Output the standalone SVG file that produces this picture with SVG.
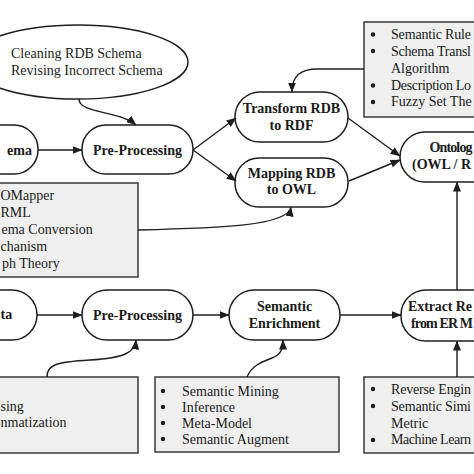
<svg xmlns="http://www.w3.org/2000/svg" width="474" height="474" viewBox="0 0 474 474">
<style>
.bg{fill:#ffffff}
.node{fill:#ffffff;stroke:#1e1e1e;stroke-width:1.5}
.box{fill:#efefef;stroke:#3a3a3a;stroke-width:1.5}
.lbl{font-family:"Liberation Serif","Times New Roman",serif;font-size:14px;font-weight:bold;fill:#1a1a1a}
.txt{font-family:"Liberation Serif","Times New Roman",serif;font-size:14px;fill:#1a1a1a}
.mid{text-anchor:middle}
.end{text-anchor:end}
.bul{fill:#1a1a1a}
.edge{fill:none;stroke:#1e1e1e;stroke-width:1.4;marker-end:url(#arr)}
</style>
<defs>
<marker id="arr" markerUnits="userSpaceOnUse" markerWidth="10" markerHeight="8" refX="9.5" refY="4" orient="auto">
<path d="M0,0 L10,4 L0,8 Z" fill="#1e1e1e"/>
</marker>
</defs>
<rect class="bg" x="0" y="0" width="474" height="474"/>

<g id="note-cleaning">
<ellipse class="node" cx="78" cy="62" rx="110" ry="37"/>
<text class="txt" x="11" y="58">Cleaning RDB Schema</text>
<text class="txt" x="11" y="75">Revising Incorrect Schema</text>
</g>

<g id="node-schema">
<rect class="node" x="-70" y="125" width="108" height="49" rx="24"/>
<text class="lbl end" x="32" y="155">ema</text>
</g>

<g id="node-preprocessing-top">
<rect class="node" x="82" y="125" width="111" height="49" rx="24"/>
<text class="lbl mid" x="137.5" y="155">Pre-Processing</text>
</g>

<g id="node-transform">
<rect class="node" x="235" y="92" width="113" height="50" rx="25"/>
<text class="lbl mid" x="291.5" y="113">Transform RDB</text>
<text class="lbl mid" x="291.5" y="129.5">to RDF</text>
</g>

<g id="node-mapping">
<rect class="node" x="235" y="158" width="113" height="49" rx="24"/>
<text class="lbl mid" x="291.5" y="177.5">Mapping RDB</text>
<text class="lbl mid" x="291.5" y="194">to OWL</text>
</g>

<g id="node-ontology">
<rect class="node" x="400" y="132" width="114" height="50" rx="25"/>
<text class="lbl" x="429.5" y="152" textLength="43">Ontolog</text>
<text class="lbl" x="412" y="169">(OWL / R</text>
</g>

<g id="box-top-right">
<rect class="box" x="364" y="22" width="120" height="95"/>
<circle class="bul" cx="373" cy="34.5" r="2.2"/>
<circle class="bul" cx="373" cy="51" r="2.2"/>
<circle class="bul" cx="373" cy="85.5" r="2.2"/>
<circle class="bul" cx="373" cy="102" r="2.2"/>
<text class="txt" x="391" y="39" textLength="80">Semantic Rule</text>
<text class="txt" x="391" y="55.5" textLength="80">Schema Transl</text>
<text class="txt" x="391" y="72.5">Algorithm</text>
<text class="txt" x="391" y="89.5" textLength="80">Description Lo</text>
<text class="txt" x="391" y="106">Fuzzy Set The</text>
</g>

<g id="box-left-middle">
<rect class="box" x="-10" y="183" width="148" height="94"/>
<text class="txt" x="0.5" y="200">OMapper</text>
<text class="txt" x="0.5" y="217">RML</text>
<text class="txt" x="1.5" y="234">ema Conversion</text>
<text class="txt" x="0.5" y="251">chanism</text>
<text class="txt" x="2" y="267.5">ph Theory</text>
</g>

<g id="node-data">
<rect class="node" x="-70" y="290" width="107" height="50" rx="25"/>
<text class="lbl" x="0.5" y="319">ta</text>
</g>

<g id="node-preprocessing-bottom">
<rect class="node" x="82" y="290" width="111" height="50" rx="25"/>
<text class="lbl mid" x="137.5" y="320">Pre-Processing</text>
</g>

<g id="node-semantic-enrichment">
<rect class="node" x="229" y="290" width="111" height="50" rx="25"/>
<text class="lbl mid" x="284.5" y="311">Semantic</text>
<text class="lbl mid" x="284.5" y="328">Enrichment</text>
</g>

<g id="node-extract">
<rect class="node" x="401" y="290" width="113" height="51" rx="25"/>
<text class="lbl" x="408" y="311" textLength="64">Extract Re</text>
<text class="lbl" x="411" y="327.5" font-size="13.5" textLength="62">from ER M</text>
</g>

<g id="box-bottom-left">
<rect class="box" x="-10" y="377" width="148" height="76"/>
<text class="txt" x="0.5" y="411">sing</text>
<text class="txt" x="0.5" y="427">nmatization</text>
</g>

<g id="box-bottom-middle">
<rect class="box" x="155" y="377" width="184" height="75"/>
<circle class="bul" cx="163" cy="391" r="2.2"/>
<circle class="bul" cx="163" cy="407" r="2.2"/>
<circle class="bul" cx="163" cy="423" r="2.2"/>
<circle class="bul" cx="163" cy="439" r="2.2"/>
<text class="txt" x="182" y="395.5">Semantic Mining</text>
<text class="txt" x="182" y="411.5">Inference</text>
<text class="txt" x="182" y="427.5">Meta-Model</text>
<text class="txt" x="182" y="443.5">Semantic Augment</text>
</g>

<g id="box-bottom-right">
<rect class="box" x="364" y="377" width="120" height="76"/>
<circle class="bul" cx="373" cy="389" r="2.2"/>
<circle class="bul" cx="373" cy="406" r="2.2"/>
<circle class="bul" cx="373" cy="440" r="2.2"/>
<text class="txt" x="391" y="393.5" textLength="80">Reverse Engin</text>
<text class="txt" x="391" y="410.5" textLength="80">Semantic Simi</text>
<text class="txt" x="391" y="427.5">Metric</text>
<text class="txt" x="391" y="444" textLength="80">Machine Learn</text>
</g>

<g id="connectors">
<path class="edge" d="M79,99 C79,114 118,110 136,125"/>
<path class="edge" d="M38,150 H82"/>
<path class="edge" d="M193,150 L236,118"/>
<path class="edge" d="M193,150 L236,181"/>
<path class="edge" d="M348,118 L400,156"/>
<path class="edge" d="M349,181 L400,160"/>
<path class="edge" d="M364,69 H318 C300,69 292,76 292,92"/>
<path class="edge" d="M138,230 C220,228 288,226 291,207"/>
<path class="edge" d="M37,315 H82"/>
<path class="edge" d="M193,315 H229"/>
<path class="edge" d="M340,315 H401"/>
<path class="edge" d="M457,290 V182"/>
<path class="edge" d="M457,377 V341"/>
<path class="edge" d="M247,377 C252,365 262,362 272,358 C280,355 283,350 283,340"/>
<path class="edge" d="M47,377 C47,365 55,362 90,360 C125,358 135,352 136,340"/>
</g>
</svg>
